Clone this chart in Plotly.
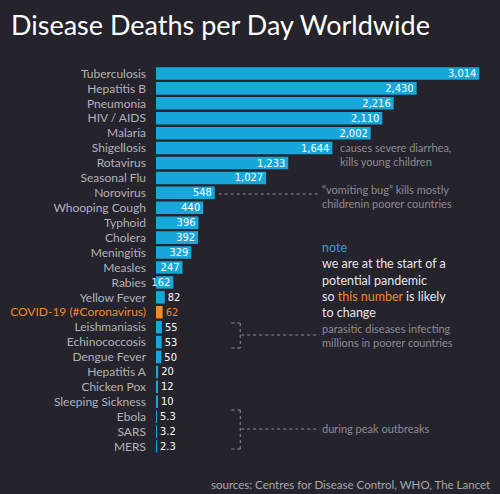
import plotly.graph_objects as go

diseases = ["Tuberculosis", "Hepatitis B", "Pneumonia", "HIV / AIDS", "Malaria", "Shigellosis",
            "Rotavirus", "Seasonal Flu", "Norovirus", "Whooping Cough", "Typhoid", "Cholera",
            "Meningitis", "Measles", "Rabies", "Yellow Fever", "COVID-19 (#Coronavirus)",
            "Leishmaniasis", "Echinococcosis", "Dengue Fever", "Hepatitis A", "Chicken Pox",
            "Sleeping Sickness", "Ebola", "SARS", "MERS"]
deaths = [3014, 2430, 2216, 2110, 2002, 1644, 1233, 1027, 548, 440, 396, 392, 329, 247, 162,
          82, 62, 55, 53, 50, 20, 12, 10, 5.3, 3.2, 2.3]
value_labels = ["3,014", "2,430", "2,216", "2,110", "2,002", "1,644", "1,233", "1,027", "548",
                "440", "396", "392", "329", "247", "162", "82", "62", "55", "53", "50", "20",
                "12", "10", "5.3", "3.2", "2.3"]
highlight = "COVID-19 (#Coronavirus)"

BG = "#25232b"
BLUE = "#17a7d9"
ORANGE = "#f0892a"
GRAY = "#8c8b95"
LABEL = "#b3b2bb"
NOTE = "#e6e6ea"
FONT = "Lato, Open Sans, sans-serif"
NUMFONT = "Liberation Sans Narrow, DejaVu Sans Condensed, Arial Narrow, sans-serif"

W, H = 500, 494
L, R = 149, 10
T, B = 66, 40
PW, PH = W - L - R, H - T - B

def px(x):
    return (x - L) / PW

def py(y):
    return (H - B - y) / PH

colors = [ORANGE if d == highlight else BLUE for d in diseases]
tcolors = [ORANGE if d == highlight else "white" for d in diseases]
positions = ["inside" if v >= 150 else "outside" for v in deaths]
ticktext = [f"<span style='color:{ORANGE}'>{d}</span>" if d == highlight else d for d in diseases]

fig = go.Figure(go.Bar(
    x=deaths, y=diseases, orientation="h",
    marker=dict(color=colors, line=dict(width=0)),
    text=value_labels, textposition=positions, insidetextanchor="end",
    constraintext="none", cliponaxis=False,
    textfont=dict(color=tcolors, size=11, family=NUMFONT),
    outsidetextfont=dict(color=tcolors, size=11, family=NUMFONT),
    hoverinfo="skip",
))

fig.update_layout(
    width=W, height=H, margin=dict(l=L, r=R, t=T, b=B),
    paper_bgcolor=BG, plot_bgcolor=BG, bargap=0.16, showlegend=False,
    font=dict(family=FONT, color=LABEL),
    xaxis=dict(range=[0, 3114], visible=False, fixedrange=True),
    yaxis=dict(categoryorder="array", categoryarray=diseases, autorange="reversed",
               tickmode="array", tickvals=diseases, ticktext=ticktext,
               tickfont=dict(size=12, color=LABEL, family=FONT),
               showgrid=False, zeroline=False, showline=False, ticks="", ticklabelstandoff=9),
)

annos = []
def note(x, y, text, color=GRAY, size=11, xanchor="left"):
    annos.append(dict(x=px(x), y=py(y), xref="paper", yref="paper", text=text, showarrow=False,
                      xanchor=xanchor, yanchor="middle", align="left", borderpad=0,
                      font=dict(color=color, size=size, family=FONT)))

note(0, 25, "Disease Deaths per Day Worldwide", color="white", size=27)

note(336, 154.5, "causes severe diarrhea,<br>kills young children")
note(317, 196, "“vomiting bug” kills mostly<br>childrenin poorer countries")
note(317, 280,
     "<span style='color:#3a9bd2'>note</span><br>we are at the start of a<br>potential pandemic<br>"
     "so <span style='color:" + ORANGE + "'>this number</span> is likely<br>to change",
     color=NOTE, size=12.5)
note(317, 335, "parasitic diseases infecting<br>millions in poorer countries")
note(317, 428, "during peak outbreaks")
note(491, 484, "sources: Centres for Disease Control, WHO, The Lancet", color="#a9a8b1", size=11.5,
     xanchor="right")
fig.update_layout(annotations=annos)

shapes = []
def seg(x0, y0, x1, y1):
    shapes.append(dict(type="line", xref="paper", yref="paper",
                       x0=px(x0), y0=py(y0), x1=px(x1), y1=py(y1),
                       line=dict(color="#8f8e98", width=1, dash="dot")))

seg(213, 194, 316, 194)
# parasitic bracket
seg(226, 323, 236, 323)
seg(235, 323, 235, 348)
seg(226, 348, 236, 348)
seg(236, 335, 316, 335)
# outbreak bracket
seg(226, 410, 236, 410)
seg(235, 410, 235, 449)
seg(226, 449, 236, 449)
seg(236, 429, 316, 429)
fig.update_layout(shapes=shapes)

fig.write_html("out.html")
